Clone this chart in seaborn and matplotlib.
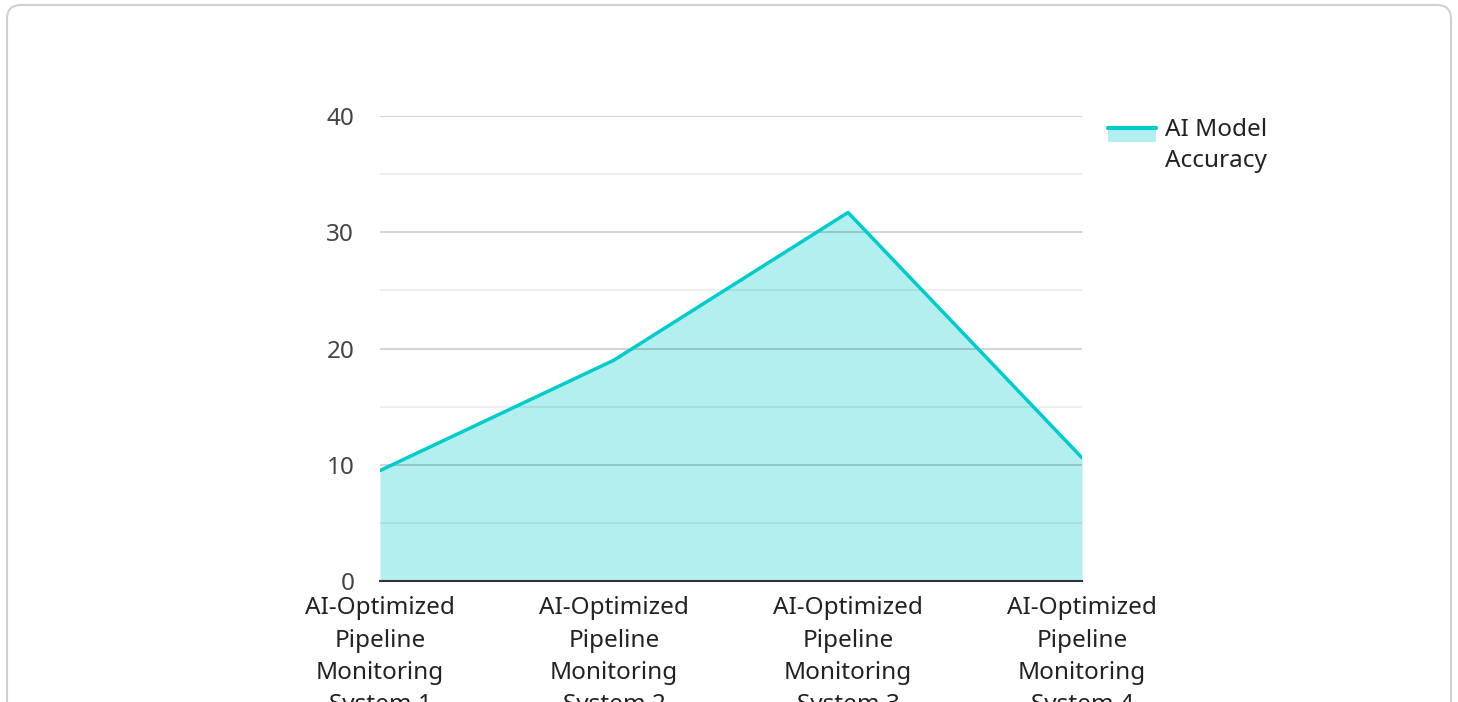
import matplotlib
matplotlib.use("Agg")
import matplotlib.pyplot as plt
import seaborn as sns
import pandas as pd
from matplotlib.patches import FancyBboxPatch, Rectangle
from matplotlib.lines import Line2D
from matplotlib.legend_handler import HandlerBase
from matplotlib.transforms import IdentityTransform

categories = [
    "AI-Optimized\nPipeline\nMonitoring\nSystem 1",
    "AI-Optimized\nPipeline\nMonitoring\nSystem 2",
    "AI-Optimized\nPipeline\nMonitoring\nSystem 3",
    "AI-Optimized\nPipeline\nMonitoring\nSystem 4",
]
accuracy = [9.5, 19.0, 31.7, 10.6]
series_name = "AI Model\nAccuracy"

line_color = "#00cccc"
fill_color = "#b2efee"
FS = 17.5


class AreaHandler(HandlerBase):
    # legend key: small filled box with the series line on its top edge,
    # sitting next to the first line of the label
    def create_artists(self, legend, orig_handle, xdescent, ydescent,
                       width, height, fontsize, trans):
        top = height - ydescent - 1
        rect = Rectangle((-xdescent, top - 11), width, 11,
                         facecolor=fill_color, edgecolor="none", transform=trans)
        line = Line2D([-xdescent, -xdescent + width], [top - 1, top - 1],
                      color=line_color, linewidth=3, transform=trans)
        return [rect, line]


sns.set_theme(style="white")
plt.rcParams["font.family"] = ["Noto Sans", "DejaVu Sans"]

df = pd.DataFrame({"x": range(len(categories)), "y": accuracy})

fig = plt.figure(figsize=(14.58, 7.02), dpi=100)
# rounded card outline, in pixels (bottom edge runs off the image)
card = FancyBboxPatch((7, -30), 1444, 702 - 5 + 30,
                      boxstyle="round,pad=0,rounding_size=14",
                      transform=IdentityTransform(), facecolor="none",
                      edgecolor="#d0d0d0", linewidth=1.5, zorder=-1)
fig.patches.append(card)

ax = fig.add_axes([380 / 1458, 1 - 581 / 702, 702 / 1458, 465 / 702])
ax.set_facecolor("none")

ax.fill_between(df["x"], df["y"], 0, color=fill_color, linewidth=0, zorder=1)
sns.lineplot(data=df, x="x", y="y", ax=ax, color=line_color, linewidth=2.5, zorder=3)

ax.set_xlim(0, len(categories) - 1)
ax.set_ylim(0, 40)
ax.set_yticks([0, 10, 20, 30, 40])
ax.set_yticks([5, 15, 25, 35], minor=True)
ax.set_xticks(range(len(categories)))
ax.set_xticklabels(categories, fontsize=FS, color="#222222", linespacing=1.46)
ax.tick_params(axis="y", labelsize=FS, labelcolor="#444444", length=0, pad=18.5)
ax.tick_params(axis="x", length=0, pad=11)
ax.tick_params(which="minor", length=0)

ax.grid(True, which="major", axis="y", color="#000000", alpha=0.2, linewidth=1.2, zorder=2)
ax.grid(True, which="minor", axis="y", color="#000000", alpha=0.08, linewidth=1.2, zorder=2)
ax.set_axisbelow(False)
for s in ["top", "right", "left"]:
    ax.spines[s].set_visible(False)
ax.spines["bottom"].set_color("#333333")
ax.spines["bottom"].set_linewidth(1.5)
ax.spines["bottom"].set_zorder(4)
ax.set_xlabel("")
ax.set_ylabel("")

leg = ax.legend([object()], [series_name], loc="upper left",
                handler_map={object: AreaHandler()},
                bbox_to_anchor=(1086 / 1458, 1 - 96 / 702),
                bbox_transform=fig.transFigure, frameon=False,
                fontsize=FS, handlelength=2.0, handleheight=2.4,
                handletextpad=0.35)
for t in leg.get_texts():
    t.set_color("#222222")
    t.set_linespacing(1.42)

fig.savefig("out.png", dpi=100)
